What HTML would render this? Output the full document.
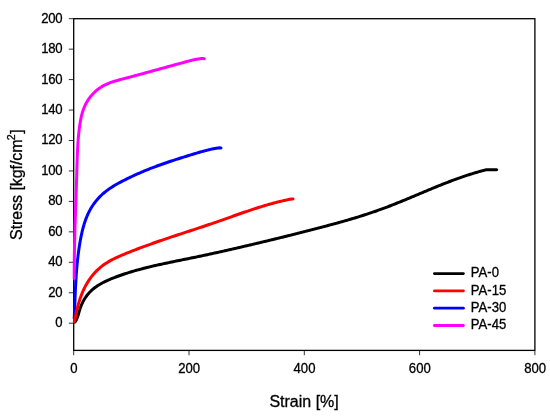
<!DOCTYPE html>
<html><head><meta charset="utf-8"><title>Stress-Strain</title>
<style>
html,body{margin:0;padding:0;background:#fff;}
body{width:550px;height:418px;overflow:hidden;position:relative;}
svg{position:absolute;left:0;top:0;}
text{font-family:"Liberation Sans",Arial,sans-serif;fill:#000;stroke:#000;stroke-width:0.3px;}
.yl{font-size:13.9px;text-anchor:end;letter-spacing:-0.3px;}
.xl{font-size:13.9px;text-anchor:middle;letter-spacing:0px;}
.lg{font-size:13.9px;letter-spacing:0px;}
.tk{stroke:#333;stroke-width:1;}
.cv{fill:none;stroke-width:3;stroke-linecap:round;stroke-linejoin:round;}
.ax{font-size:16px;}
</style></head><body>
<svg width="550" height="418" viewBox="0 0 550 418">
<rect x="73.7" y="18.7" width="461.2" height="331.7" fill="none" stroke="#000" stroke-width="1.3"/>
<path d="M74.20 318.50 L74.28 317.01 L74.35 315.50 L74.41 313.98 L74.47 312.47 L74.54 310.96 L74.60 309.44 L74.66 307.93 L74.72 306.42 L74.78 304.90 L74.84 303.39 L74.90 301.87 L74.96 300.36 L75.02 298.85 L75.08 297.33 L75.15 295.82 L75.21 294.31 L75.28 292.79 L75.34 291.28 L75.41 289.77 L75.49 288.25 L75.56 286.74 L75.64 285.23 L75.72 283.72 L75.80 282.20 L75.89 280.69 L75.98 279.18 L76.07 277.67 L76.17 276.15 L76.28 274.64 L76.38 273.13 L76.50 271.62 L76.61 270.11 L76.74 268.60 L76.87 267.09 L77.00 265.58 L77.14 264.08 L77.29 262.57 L77.44 261.06 L77.60 259.55 L77.77 258.05 L77.94 256.54 L78.13 255.04 L78.32 253.54 L78.51 252.04 L78.72 250.53 L78.93 249.03 L79.15 247.54 L79.38 246.04 L79.62 244.54 L79.87 243.05 L80.13 241.56 L80.40 240.07 L80.68 238.58 L80.96 237.09 L81.26 235.60 L81.58 234.12 L81.91 232.64 L82.25 231.17 L82.61 229.70 L82.99 228.23 L83.38 226.77 L83.80 225.31 L84.24 223.86 L84.70 222.42 L85.18 220.98 L85.69 219.56 L86.23 218.14 L86.79 216.73 L87.38 215.34 L88.00 213.96 L88.65 212.59 L89.33 211.23 L90.05 209.90 L90.79 208.58 L91.57 207.28 L92.39 206.00 L93.23 204.75 L94.10 203.51 L95.01 202.29 L95.94 201.10 L96.91 199.93 L97.90 198.79 L98.92 197.67 L99.98 196.58 L101.05 195.52 L102.16 194.48 L103.29 193.48 L104.45 192.50 L105.63 191.55 L106.83 190.62 L108.05 189.72 L109.28 188.85 L110.54 188.00 L111.80 187.17 L113.08 186.36 L114.38 185.57 L115.68 184.80 L116.99 184.04 L118.32 183.30 L119.65 182.58 L120.98 181.87 L122.33 181.17 L123.67 180.47 L125.03 179.79 L126.38 179.12 L127.74 178.45 L129.11 177.79 L130.47 177.14 L131.84 176.49 L133.22 175.85 L134.59 175.22 L135.97 174.60 L137.36 173.98 L138.74 173.37 L140.13 172.76 L141.52 172.17 L142.92 171.58 L144.32 170.99 L145.72 170.41 L147.12 169.84 L148.53 169.28 L149.94 168.72 L151.35 168.17 L152.76 167.63 L154.17 167.09 L155.59 166.55 L157.01 166.03 L158.44 165.50 L159.86 164.99 L161.29 164.48 L162.71 163.97 L164.14 163.47 L165.57 162.97 L167.01 162.48 L168.44 162.00 L169.88 161.51 L171.32 161.04 L172.75 160.56 L174.19 160.09 L175.63 159.62 L177.08 159.16 L178.52 158.70 L179.96 158.24 L181.41 157.78 L182.85 157.33 L184.30 156.88 L185.75 156.44 L187.20 155.99 L188.64 155.55 L190.09 155.10 L191.54 154.66 L192.99 154.23 L194.44 153.79 L195.89 153.35 L197.34 152.92 L198.80 152.49 L200.25 152.06 L201.71 151.64 L203.17 151.23 L204.63 150.84 L206.09 150.45 L207.56 150.08 L209.03 149.72 L210.51 149.38 L211.99 149.06 L213.47 148.76 L214.96 148.49 L216.46 148.24 L217.96 148.02 L219.46 147.82 L221.00 147.90" stroke="#00f" class="cv"/>
<path d="M74.90 322.01 L75.79 320.79 L76.49 319.46 L77.11 318.08 L77.64 316.67 L78.12 315.24 L78.55 313.80 L78.96 312.35 L79.38 310.90 L79.81 309.46 L80.28 308.03 L80.80 306.61 L81.36 305.21 L81.97 303.83 L82.61 302.47 L83.30 301.13 L84.04 299.81 L84.81 298.52 L85.64 297.26 L86.51 296.03 L87.42 294.83 L88.39 293.68 L89.40 292.56 L90.45 291.48 L91.54 290.44 L92.67 289.44 L93.83 288.48 L95.02 287.56 L96.24 286.68 L97.49 285.83 L98.76 285.02 L100.05 284.24 L101.36 283.49 L102.68 282.77 L104.02 282.08 L105.37 281.41 L106.73 280.77 L108.11 280.15 L109.49 279.55 L110.88 278.97 L112.27 278.40 L113.68 277.84 L115.08 277.30 L116.49 276.77 L117.91 276.25 L119.32 275.74 L120.74 275.23 L122.17 274.74 L123.59 274.25 L125.02 273.78 L126.46 273.31 L127.89 272.85 L129.33 272.40 L130.77 271.96 L132.21 271.53 L133.66 271.10 L135.11 270.68 L136.56 270.27 L138.01 269.87 L139.46 269.47 L140.92 269.08 L142.37 268.69 L143.83 268.31 L145.29 267.94 L146.75 267.58 L148.22 267.21 L149.68 266.86 L151.15 266.51 L152.61 266.16 L154.08 265.82 L155.55 265.48 L157.02 265.15 L158.49 264.82 L159.96 264.50 L161.43 264.17 L162.91 263.85 L164.38 263.54 L165.85 263.23 L167.33 262.91 L168.80 262.61 L170.28 262.30 L171.76 261.99 L173.23 261.69 L174.71 261.39 L176.18 261.09 L177.66 260.79 L179.14 260.49 L180.62 260.19 L182.09 259.89 L183.57 259.59 L185.05 259.29 L186.52 258.99 L188.00 258.69 L189.48 258.39 L190.95 258.09 L192.43 257.78 L193.90 257.48 L195.38 257.17 L196.85 256.86 L198.33 256.55 L199.80 256.24 L201.28 255.93 L202.75 255.62 L204.23 255.30 L205.70 254.98 L207.17 254.67 L208.64 254.35 L210.12 254.03 L211.59 253.71 L213.06 253.39 L214.53 253.06 L216.01 252.74 L217.48 252.42 L218.95 252.09 L220.42 251.76 L221.89 251.43 L223.36 251.11 L224.83 250.78 L226.30 250.44 L227.77 250.11 L229.24 249.78 L230.71 249.45 L232.18 249.11 L233.65 248.78 L235.12 248.44 L236.59 248.10 L238.06 247.76 L239.52 247.43 L240.99 247.09 L242.46 246.74 L243.93 246.40 L245.40 246.06 L246.86 245.72 L248.33 245.38 L249.80 245.03 L251.26 244.69 L252.73 244.34 L254.20 243.99 L255.66 243.65 L257.13 243.30 L258.60 242.95 L260.06 242.60 L261.53 242.25 L262.99 241.90 L264.46 241.55 L265.92 241.20 L267.39 240.85 L268.85 240.49 L270.32 240.14 L271.78 239.78 L273.25 239.43 L274.71 239.07 L276.18 238.71 L277.64 238.36 L279.10 238.00 L280.57 237.64 L282.03 237.28 L283.49 236.92 L284.96 236.55 L286.42 236.19 L287.88 235.83 L289.34 235.46 L290.81 235.10 L292.27 234.73 L293.73 234.37 L295.19 234.00 L296.65 233.63 L298.11 233.26 L299.57 232.89 L301.03 232.52 L302.49 232.15 L303.95 231.78 L305.41 231.40 L306.87 231.03 L308.33 230.65 L309.79 230.28 L311.25 229.90 L312.71 229.52 L314.17 229.15 L315.63 228.77 L317.09 228.39 L318.54 228.00 L320.00 227.62 L321.46 227.24 L322.92 226.86 L324.37 226.47 L325.83 226.08 L327.29 225.70 L328.74 225.31 L330.20 224.92 L331.65 224.53 L333.11 224.13 L334.56 223.74 L336.02 223.34 L337.47 222.94 L338.92 222.54 L340.37 222.13 L341.82 221.73 L343.27 221.32 L344.72 220.90 L346.17 220.49 L347.62 220.07 L349.07 219.65 L350.51 219.23 L351.96 218.80 L353.40 218.37 L354.85 217.94 L356.29 217.50 L357.73 217.06 L359.17 216.62 L360.61 216.17 L362.05 215.72 L363.48 215.26 L364.92 214.80 L366.35 214.34 L367.78 213.87 L369.21 213.40 L370.64 212.92 L372.07 212.44 L373.50 211.95 L374.92 211.46 L376.35 210.96 L377.77 210.46 L379.19 209.96 L380.60 209.44 L382.02 208.93 L383.43 208.40 L384.84 207.88 L386.25 207.35 L387.66 206.81 L389.07 206.27 L390.47 205.73 L391.88 205.18 L393.28 204.63 L394.68 204.07 L396.08 203.51 L397.48 202.95 L398.88 202.39 L400.27 201.82 L401.67 201.25 L403.06 200.68 L404.46 200.10 L405.85 199.53 L407.24 198.95 L408.63 198.37 L410.02 197.79 L411.41 197.21 L412.80 196.63 L414.19 196.05 L415.58 195.46 L416.97 194.88 L418.36 194.29 L419.75 193.71 L421.14 193.13 L422.53 192.54 L423.92 191.96 L425.31 191.38 L426.70 190.79 L428.09 190.21 L429.48 189.63 L430.87 189.06 L432.26 188.48 L433.66 187.91 L435.05 187.33 L436.45 186.76 L437.84 186.20 L439.24 185.63 L440.64 185.07 L442.04 184.51 L443.44 183.95 L444.84 183.40 L446.24 182.85 L447.65 182.31 L449.05 181.77 L450.46 181.23 L451.87 180.70 L453.28 180.17 L454.70 179.65 L456.11 179.13 L457.53 178.61 L458.95 178.11 L460.37 177.60 L461.79 177.11 L463.21 176.62 L464.64 176.13 L466.07 175.65 L467.50 175.18 L468.94 174.72 L470.37 174.26 L471.81 173.81 L473.25 173.37 L474.69 172.93 L476.14 172.50 L477.58 172.08 L479.03 171.67 L480.49 171.27 L481.94 170.87 L483.40 170.49 L484.86 170.11 L486.30 169.71 L496.7 169.75" stroke="#000" class="cv"/>
<path d="M74.30 321.91 L74.74 320.37 L75.01 318.88 L75.30 317.39 L75.59 315.91 L75.89 314.42 L76.21 312.94 L76.54 311.46 L76.88 309.98 L77.24 308.51 L77.61 307.04 L77.99 305.57 L78.40 304.11 L78.82 302.65 L79.26 301.20 L79.72 299.76 L80.20 298.32 L80.71 296.89 L81.23 295.47 L81.78 294.05 L82.35 292.65 L82.95 291.26 L83.57 289.87 L84.22 288.50 L84.89 287.15 L85.60 285.80 L86.33 284.48 L87.09 283.17 L87.88 281.87 L88.70 280.60 L89.55 279.34 L90.43 278.10 L91.33 276.89 L92.27 275.69 L93.23 274.52 L94.22 273.37 L95.24 272.25 L96.29 271.16 L97.36 270.09 L98.47 269.05 L99.60 268.04 L100.76 267.07 L101.95 266.13 L103.17 265.22 L104.40 264.34 L105.66 263.50 L106.94 262.68 L108.24 261.90 L109.55 261.14 L110.88 260.40 L112.21 259.69 L113.56 259.00 L114.92 258.33 L116.29 257.68 L117.67 257.04 L119.05 256.42 L120.44 255.81 L121.83 255.22 L123.23 254.63 L124.63 254.05 L126.03 253.47 L127.44 252.90 L128.84 252.33 L130.25 251.77 L131.66 251.21 L133.07 250.65 L134.48 250.10 L135.90 249.56 L137.31 249.02 L138.73 248.48 L140.15 247.94 L141.57 247.41 L142.99 246.88 L144.42 246.36 L145.84 245.84 L147.26 245.32 L148.69 244.81 L150.12 244.30 L151.55 243.79 L152.98 243.28 L154.41 242.78 L155.84 242.28 L157.27 241.78 L158.70 241.29 L160.14 240.79 L161.57 240.30 L163.01 239.81 L164.44 239.33 L165.88 238.84 L167.31 238.36 L168.75 237.88 L170.19 237.39 L171.63 236.92 L173.07 236.44 L174.51 235.96 L175.94 235.48 L177.38 235.01 L178.82 234.53 L180.26 234.06 L181.70 233.59 L183.15 233.11 L184.59 232.64 L186.03 232.17 L187.47 231.69 L188.91 231.22 L190.35 230.75 L191.79 230.28 L193.23 229.80 L194.67 229.33 L196.11 228.85 L197.55 228.38 L198.99 227.90 L200.43 227.42 L201.87 226.95 L203.30 226.47 L204.74 225.99 L206.18 225.50 L207.62 225.02 L209.05 224.53 L210.49 224.05 L211.92 223.56 L213.36 223.07 L214.79 222.57 L216.22 222.08 L217.66 221.58 L219.09 221.08 L220.52 220.58 L221.95 220.08 L223.38 219.57 L224.81 219.07 L226.24 218.56 L227.67 218.06 L229.10 217.55 L230.53 217.05 L231.96 216.54 L233.39 216.04 L234.82 215.53 L236.25 215.03 L237.68 214.53 L239.11 214.03 L240.54 213.53 L241.97 213.03 L243.40 212.54 L244.84 212.04 L246.27 211.55 L247.71 211.07 L249.15 210.58 L250.58 210.10 L252.02 209.62 L253.46 209.15 L254.90 208.68 L256.35 208.22 L257.79 207.75 L259.24 207.30 L260.68 206.85 L262.13 206.40 L263.58 205.96 L265.04 205.52 L266.49 205.10 L267.95 204.67 L269.40 204.26 L270.86 203.85 L272.33 203.44 L273.79 203.05 L275.25 202.66 L276.72 202.28 L278.19 201.91 L279.66 201.54 L281.14 201.18 L282.61 200.84 L284.09 200.50 L285.57 200.17 L287.05 199.85 L288.54 199.54 L290.02 199.24 L291.51 198.95 L293.00 198.90" stroke="#f00" class="cv"/>
<path d="M74.20 278.50 L74.26 276.99 L74.25 275.48 L74.25 273.97 L74.25 272.47 L74.25 270.96 L74.25 269.45 L74.25 267.94 L74.26 266.44 L74.27 264.93 L74.28 263.42 L74.29 261.91 L74.31 260.40 L74.32 258.90 L74.34 257.39 L74.36 255.88 L74.38 254.37 L74.41 252.87 L74.43 251.36 L74.46 249.85 L74.49 248.34 L74.51 246.83 L74.55 245.33 L74.58 243.82 L74.61 242.31 L74.65 240.80 L74.68 239.30 L74.72 237.79 L74.76 236.28 L74.80 234.77 L74.84 233.27 L74.88 231.76 L74.92 230.25 L74.96 228.75 L75.01 227.24 L75.05 225.73 L75.10 224.22 L75.15 222.72 L75.19 221.21 L75.24 219.70 L75.29 218.20 L75.34 216.69 L75.39 215.18 L75.44 213.67 L75.49 212.17 L75.54 210.66 L75.59 209.15 L75.64 207.65 L75.69 206.14 L75.75 204.63 L75.80 203.12 L75.85 201.62 L75.90 200.11 L75.95 198.60 L76.01 197.10 L76.06 195.59 L76.11 194.08 L76.16 192.58 L76.21 191.07 L76.26 189.56 L76.31 188.05 L76.36 186.55 L76.41 185.04 L76.46 183.53 L76.51 182.03 L76.56 180.52 L76.61 179.01 L76.66 177.51 L76.70 176.00 L76.75 174.49 L76.79 172.98 L76.84 171.48 L76.88 169.97 L76.92 168.46 L76.96 166.95 L77.01 165.45 L77.05 163.94 L77.09 162.43 L77.14 160.93 L77.18 159.42 L77.23 157.91 L77.28 156.40 L77.34 154.90 L77.40 153.39 L77.46 151.88 L77.53 150.38 L77.60 148.87 L77.68 147.37 L77.76 145.86 L77.85 144.35 L77.95 142.85 L78.05 141.35 L78.16 139.84 L78.28 138.34 L78.41 136.84 L78.55 135.33 L78.70 133.83 L78.85 132.33 L79.02 130.84 L79.20 129.34 L79.39 127.84 L79.59 126.35 L79.80 124.86 L80.03 123.36 L80.28 121.88 L80.54 120.39 L80.83 118.91 L81.14 117.44 L81.47 115.97 L81.84 114.50 L82.24 113.05 L82.68 111.61 L83.15 110.18 L83.66 108.76 L84.22 107.36 L84.82 105.97 L85.46 104.61 L86.15 103.27 L86.89 101.95 L87.67 100.66 L88.50 99.40 L89.37 98.17 L90.27 96.96 L91.22 95.79 L92.21 94.65 L93.23 93.55 L94.30 92.48 L95.40 91.45 L96.53 90.45 L97.70 89.50 L98.90 88.59 L100.14 87.73 L101.41 86.91 L102.71 86.15 L104.03 85.43 L105.38 84.75 L106.75 84.12 L108.13 83.52 L109.53 82.96 L110.95 82.44 L112.37 81.94 L113.80 81.47 L115.24 81.03 L116.69 80.60 L118.14 80.19 L119.59 79.79 L121.05 79.40 L122.51 79.02 L123.97 78.64 L125.43 78.26 L126.89 77.88 L128.35 77.50 L129.81 77.12 L131.26 76.73 L132.72 76.34 L134.18 75.95 L135.63 75.56 L137.09 75.17 L138.55 74.78 L140.00 74.39 L141.46 73.99 L142.91 73.60 L144.37 73.20 L145.82 72.80 L147.28 72.40 L148.73 72.00 L150.18 71.60 L151.64 71.20 L153.09 70.80 L154.54 70.40 L156.00 70.00 L157.45 69.60 L158.90 69.20 L160.36 68.79 L161.81 68.39 L163.26 67.99 L164.72 67.59 L166.17 67.19 L167.63 66.79 L169.08 66.39 L170.53 65.99 L171.99 65.59 L173.44 65.19 L174.90 64.79 L176.35 64.40 L177.81 64.00 L179.26 63.61 L180.72 63.22 L182.17 62.83 L183.63 62.43 L185.09 62.05 L186.55 61.66 L188.00 61.27 L189.46 60.89 L190.92 60.51 L192.38 60.13 L193.85 59.78 L195.32 59.45 L196.80 59.15 L198.28 58.90 L199.78 58.71 L201.28 58.59 L202.79 58.55 L204.30 58.80" stroke="#f0f" class="cv"/>
<line x1="68.8" y1="323.20" x2="73" y2="323.20" class="tk"/>
<line x1="68.8" y1="292.75" x2="73" y2="292.75" class="tk"/>
<line x1="68.8" y1="262.30" x2="73" y2="262.30" class="tk"/>
<line x1="68.8" y1="231.85" x2="73" y2="231.85" class="tk"/>
<line x1="68.8" y1="201.40" x2="73" y2="201.40" class="tk"/>
<line x1="68.8" y1="170.95" x2="73" y2="170.95" class="tk"/>
<line x1="68.8" y1="140.50" x2="73" y2="140.50" class="tk"/>
<line x1="68.8" y1="110.05" x2="73" y2="110.05" class="tk"/>
<line x1="68.8" y1="79.60" x2="73" y2="79.60" class="tk"/>
<line x1="68.8" y1="49.15" x2="73" y2="49.15" class="tk"/>
<line x1="68.8" y1="18.70" x2="73" y2="18.70" class="tk"/>
<line x1="73.70" y1="351" x2="73.70" y2="355.2" class="tk"/>
<line x1="189.00" y1="351" x2="189.00" y2="355.2" class="tk"/>
<line x1="304.30" y1="351" x2="304.30" y2="355.2" class="tk"/>
<line x1="419.60" y1="351" x2="419.60" y2="355.2" class="tk"/>
<line x1="534.90" y1="351" x2="534.90" y2="355.2" class="tk"/>
<text transform="translate(62.3,327.10) scale(0.945,1)" class="yl">0</text>
<text transform="translate(62.3,296.65) scale(0.945,1)" class="yl">20</text>
<text transform="translate(62.3,266.20) scale(0.945,1)" class="yl">40</text>
<text transform="translate(62.3,235.75) scale(0.945,1)" class="yl">60</text>
<text transform="translate(62.3,205.30) scale(0.945,1)" class="yl">80</text>
<text transform="translate(62.3,174.85) scale(0.945,1)" class="yl">100</text>
<text transform="translate(62.3,144.40) scale(0.945,1)" class="yl">120</text>
<text transform="translate(62.3,113.95) scale(0.945,1)" class="yl">140</text>
<text transform="translate(62.3,83.50) scale(0.945,1)" class="yl">160</text>
<text transform="translate(62.3,53.05) scale(0.945,1)" class="yl">180</text>
<text transform="translate(62.3,22.60) scale(0.945,1)" class="yl">200</text>
<text transform="translate(73.90,373.3) scale(0.945,1)" class="xl">0</text>
<text transform="translate(189.20,373.3) scale(0.945,1)" class="xl">200</text>
<text transform="translate(304.50,373.3) scale(0.945,1)" class="xl">400</text>
<text transform="translate(419.80,373.3) scale(0.945,1)" class="xl">600</text>
<text transform="translate(535.10,373.3) scale(0.945,1)" class="xl">800</text>
<line x1="434.4" y1="273.60" x2="463.4" y2="273.60" stroke="#000" stroke-width="2.8" stroke-linecap="round"/>
<text transform="translate(470.8,277.40) scale(0.945,1)" class="lg">PA-0</text>
<line x1="434.4" y1="290.90" x2="463.4" y2="290.90" stroke="#f00" stroke-width="2.8" stroke-linecap="round"/>
<text transform="translate(470.8,294.70) scale(0.945,1)" class="lg">PA-15</text>
<line x1="434.4" y1="308.20" x2="463.4" y2="308.20" stroke="#00f" stroke-width="2.8" stroke-linecap="round"/>
<text transform="translate(470.8,312.00) scale(0.945,1)" class="lg">PA-30</text>
<line x1="434.4" y1="325.50" x2="463.4" y2="325.50" stroke="#f0f" stroke-width="2.8" stroke-linecap="round"/>
<text transform="translate(470.8,329.30) scale(0.945,1)" class="lg">PA-45</text>
<text x="269.4" y="406.5" class="ax">Strain [%]</text>
<text transform="translate(21.5,239.9) rotate(-90)" class="ax" letter-spacing="-0.07">Stress [kgf/cm<tspan dx="-0.6" dy="-6.4" font-size="10.6">2</tspan><tspan dx="0.5" dy="6.4">]</tspan></text>
</svg>
</body></html>
